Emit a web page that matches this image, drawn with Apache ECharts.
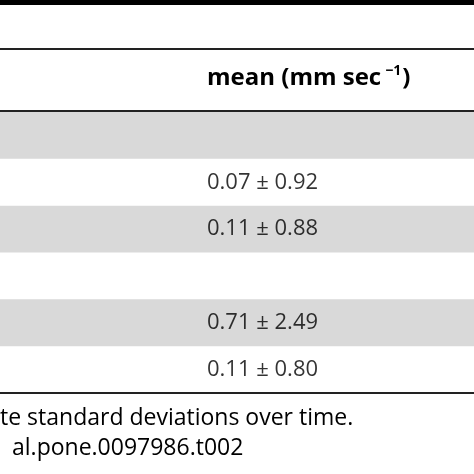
<!DOCTYPE html>
<html>
<head>
<meta charset="utf-8">
<script src="https://cdn.jsdelivr.net/npm/echarts@6/dist/echarts.min.js"></script>
<style>
  html, body { margin: 0; padding: 0; background: #fff; }
  #chart { width: 474px; height: 474px; }
</style>
</head>
<body>
<div id="chart"></div>
<script>
// table rows (top to bottom)
const rowNames = ['r1', 'r2', 'r3', 'r4', 'r5', 'r6']
const rowShaded = [1, 0, 1, 0, 1, 0]
const meanValues = ['', '0.07 ± 0.92', '0.11 ± 0.88', '', '0.71 ± 2.49', '0.11 ± 0.80']
const headerText = 'mean (mm sec'
const footLines = ['te standard deviations over time.', 'al.pone.0097986.t002']

const font = '"Open Sans", "DejaVu Sans", sans-serif'
const chart = echarts.init(document.getElementById('chart'))

const option = {
  animation: false,
  backgroundColor: '#fff',
  grid: { left: 0, right: 0, top: 112, height: 281 },
  xAxis: { type: 'value', min: 0, max: 474, show: false },
  yAxis: { type: 'category', data: rowNames, inverse: true, show: false },
  series: [
    {
      type: 'bar',
      data: rowShaded.map(s => s ? 474 : 0),
      barWidth: '100%',
      itemStyle: { color: '#d9d9d9' },
      silent: true
    },
    {
      type: 'scatter',
      symbolSize: 0,
      data: meanValues.map((v, i) => [207, rowNames[i]]),
      label: {
        show: true,
        position: 'right',
        distance: 0,
        formatter: p => meanValues[p.dataIndex],
        fontFamily: font,
        fontSize: 22,
        color: '#000'
      }
    }
  ],
  graphic: [
    { type: 'rect', shape: { x: 0, y: 0, width: 474, height: 5 }, style: { fill: '#000' } },
    { type: 'rect', shape: { x: 0, y: 48, width: 474, height: 2 }, style: { fill: '#222' } },
    { type: 'rect', shape: { x: 0, y: 110, width: 474, height: 2 }, style: { fill: '#222' } },
    { type: 'rect', shape: { x: 0, y: 392, width: 474, height: 2 }, style: { fill: '#222' } },
    {
      type: 'text', left: 207, top: 64,
      style: {
        text: '{b|' + headerText + '}{s|−1}{b|)}',
        rich: {
          b: { fontFamily: font, fontWeight: 'bold', fontSize: 24, color: '#000', verticalAlign: 'bottom' },
          s: { fontFamily: font, fontWeight: 'bold', fontSize: 14, color: '#000', padding: [0, 1, 12, 4] }
        }
      }
    },
    { type: 'text', left: 0, top: 407, style: { text: footLines[0], fontFamily: font, fontSize: 23, fill: '#000' } },
    { type: 'text', left: 12, top: 437, style: { text: footLines[1], fontFamily: font, fontSize: 23, fill: '#000' } }
  ]
}

chart.setOption(option)
</script>
</body>
</html>
